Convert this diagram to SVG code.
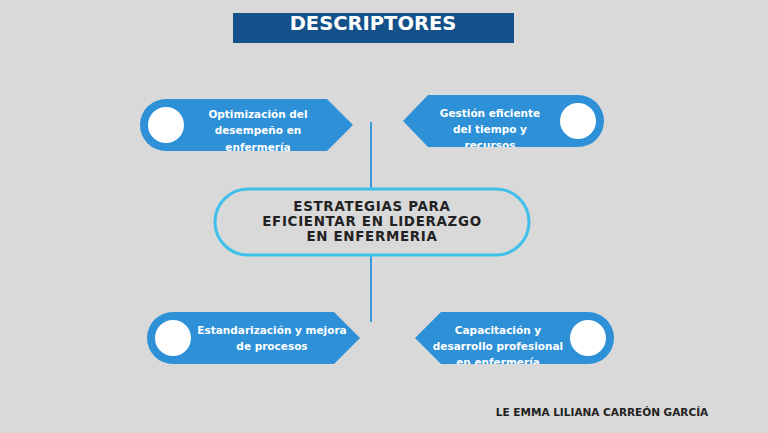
<svg xmlns="http://www.w3.org/2000/svg" width="768" height="433" viewBox="0 0 768 433">
<style>
.bg{fill:#d9d9d9}
.tag{fill:#2e90d7}
.dot{fill:#ffffff}
.tt{font-family:"DejaVu Sans",Verdana,sans-serif;font-weight:bold;font-size:10.5px;fill:#ffffff;text-anchor:middle}
.ct{font-family:"DejaVu Sans",Verdana,sans-serif;font-weight:bold;font-size:13.4px;fill:#222222;text-anchor:middle;letter-spacing:0.7px}
.conn{stroke:#3a9ad9;stroke-width:2;fill:none}
</style>
<defs>
<clipPath id="c1"><path d="M166,99 H327 L353,125 L327,151 H166 A26,26 0 0 1 166,99 Z"/></clipPath>
<clipPath id="c2"><path d="M578,95 H428 L403,121 L428,147 H578 A26,26 0 0 0 578,95 Z"/></clipPath>
<clipPath id="c3"><path d="M173,312 H334 L360,338 L334,364 H173 A26,26 0 0 1 173,312 Z"/></clipPath>
<clipPath id="c4"><path d="M588,312 H441 L415,338 L441,364 H588 A26,26 0 0 0 588,312 Z"/></clipPath>
</defs>
<rect class="bg" x="0" y="0" width="768" height="433"/>
<g id="title">
<rect x="233" y="13" width="281" height="30" fill="#145089"/>
<text x="373" y="30" font-family="DejaVu Sans,Verdana,sans-serif" font-weight="bold" font-size="19.5" fill="#ffffff" text-anchor="middle">DESCRIPTORES</text>
</g>
<g id="connectors">
<line class="conn" x1="371" y1="122" x2="371" y2="189"/>
<line class="conn" x1="371" y1="255" x2="371" y2="322"/>
</g>
<g id="center">
<rect x="215" y="189" width="314" height="66" rx="33" ry="33" fill="#d9d9d9" stroke="#3ec0ea" stroke-width="3"/>
<text class="ct" x="372" y="211">ESTRATEGIAS PARA</text>
<text class="ct" x="372" y="226">EFICIENTAR EN LIDERAZGO</text>
<text class="ct" x="372" y="241">EN ENFERMERIA</text>
</g>
<g id="n1">
<path class="tag" d="M166,99 H327 L353,125 L327,151 H166 A26,26 0 0 1 166,99 Z"/>
<circle class="dot" cx="166" cy="125" r="18"/>
<g clip-path="url(#c1)">
<text class="tt" x="258" y="118">Optimización del</text>
<text class="tt" x="258" y="134">desempeño en</text>
<text class="tt" x="258" y="151">enfermería</text>
</g>
</g>
<g id="n2">
<path class="tag" d="M578,95 H428 L403,121 L428,147 H578 A26,26 0 0 0 578,95 Z"/>
<circle class="dot" cx="578" cy="121" r="18"/>
<g clip-path="url(#c2)">
<text class="tt" x="490" y="117">Gestión eficiente</text>
<text class="tt" x="490" y="133">del tiempo y</text>
<text class="tt" x="490" y="149">recursos</text>
</g>
</g>
<g id="n3">
<path class="tag" d="M173,312 H334 L360,338 L334,364 H173 A26,26 0 0 1 173,312 Z"/>
<circle class="dot" cx="173" cy="338" r="18"/>
<g clip-path="url(#c3)">
<text class="tt" x="272" y="334">Estandarización y mejora</text>
<text class="tt" x="272" y="350">de procesos</text>
</g>
</g>
<g id="n4">
<path class="tag" d="M588,312 H441 L415,338 L441,364 H588 A26,26 0 0 0 588,312 Z"/>
<circle class="dot" cx="588" cy="338" r="18"/>
<g clip-path="url(#c4)">
<text class="tt" x="498" y="334">Capacitación y</text>
<text class="tt" x="498" y="350">desarrollo profesional</text>
<text class="tt" x="498" y="366">en enfermería</text>
</g>
</g>
<text x="602" y="416" font-family="DejaVu Sans,Verdana,sans-serif" font-weight="bold" font-size="10.5" fill="#222222" text-anchor="middle">LE EMMA LILIANA CARREÓN GARCÍA</text>
</svg>
